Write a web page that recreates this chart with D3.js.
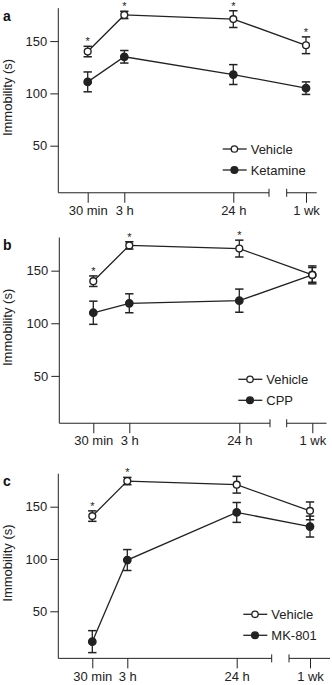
<!DOCTYPE html>
<html>
<head>
<meta charset="utf-8">
<script src="https://cdn.jsdelivr.net/npm/d3@7"></script>
<style>
  body { margin: 0; background: #fff; }
  svg { display: block; font-family: "Liberation Sans", Arial, sans-serif; }
</style>
</head>
<body>
<svg id="chart" width="332" height="685"></svg>
<script>
// time points (hours) and their labels
var timeHours = [0.5, 3, 24, 168]
var timeLabels = ["30 min", "3 h", "24 h", "1 wk"]
var yTicks = [50, 100, 150]

// vehicle group, panel a
var vehicleMean = [140, 175, 171, 146]
var vehicleErr = [5, 3.5, 8, 8]

// panel a
var ketamineMean = [111, 135, 118, 105]
var ketamineErr = [9.5, 6, 9.5, 6]
var starsA = [true, true, true, true]

// panel b
var vehicleMeanB = [140, 174, 171, 146]
var vehicleErrB = [5, 3.5, 8, 7]
var cppMean = [110, 119, 121.5, 146]
var cppErr = [11, 9, 11, 8.5]
var starsB = [true, true, true, false]

// panel c
var vehicleMeanC = [141, 174.5, 171, 146]
var vehicleErrC = [5, 3.5, 8, 8.5]
var mk801Mean = [21, 99, 144.5, 131]
var mk801Err = [10.5, 10, 9.5, 10]
var starsC = [true, true, false, false]

// layout for each panel
var panels = [
  { letter: "a", drug: "Ketamine", veh: vehicleMean, vehErr: vehicleErr, mean: ketamineMean, err: ketamineErr, stars: starsA,
    axisX: 58.3, y0: 198, y180: 9.7, xPos: [87.7, 124.3, 233.3, 306], brk: [269, 286.7], xEnd: 316.7,
    letterY: 20.5, legX: 222.7, legY: 149 },
  { letter: "b", drug: "CPP", veh: vehicleMeanB, vehErr: vehicleErrB, mean: cppMean, err: cppErr, stars: starsB,
    axisX: 59.3, y0: 428.5, y180: 239.1, xPos: [93.3, 129.3, 239.3, 312.3], brk: [270, 286.7], xEnd: 326.5,
    letterY: 250, legX: 238.3, legY: 379.3 },
  { letter: "c", drug: "MK-801", veh: vehicleMeanC, vehErr: vehicleErrC, mean: mk801Mean, err: mk801Err, stars: starsC,
    axisX: 58.3, y0: 663.6, y180: 475.3, xPos: [92.3, 127.3, 236.7, 310], brk: [271.7, 289], xEnd: 330,
    letterY: 486, legX: 243.3, legY: 614.3 }
]

var ink = "#222"
var svg = d3.select("#chart")

panels.forEach(function(p) {
  var g = svg.append("g")

  var y = d3.scaleLinear().domain([0, 180]).range([p.y0, p.y180])
  var x = d3.scaleLinear().domain(timeHours).range(p.xPos)
  var axisY = y(5)

  // panel letter
  g.append("text")
    .attr("x", 3).attr("y", p.letterY)
    .attr("font-size", 14).attr("font-weight", "bold").attr("fill", "#111")
    .text(p.letter)

  // y axis
  var yAx = g.append("g")
    .attr("transform", "translate(" + p.axisX + ",0)")
    .call(d3.axisLeft(y).tickValues(yTicks).tickSize(8).tickPadding(3))
  yAx.select(".domain").remove()
  yAx.selectAll("line").attr("stroke", ink)
  yAx.selectAll("text").attr("font-size", 13).attr("fill", ink)
    .attr("font-family", "Liberation Sans, Arial, sans-serif")
  g.append("line")
    .attr("x1", p.axisX).attr("x2", p.axisX)
    .attr("y1", axisY).attr("y2", y(181.5))
    .attr("stroke", ink)

  // y label
  g.append("text")
    .attr("transform", "translate(12," + ((axisY + y(181.5)) / 2 - 3) + ") rotate(-90)")
    .attr("text-anchor", "middle")
    .attr("font-size", 13).attr("fill", ink)
    .text("Immobility (s)")

  // x axis with a break before 1 wk
  var xAx = g.append("g")
    .attr("transform", "translate(0," + axisY + ")")
    .call(d3.axisBottom(x).tickValues(timeHours).tickFormat(function(d, i) { return timeLabels[i] })
      .tickSize(10).tickPadding(3))
  xAx.select(".domain").remove()
  xAx.selectAll("line").attr("stroke", ink)
  xAx.selectAll("text").attr("font-size", 13).attr("fill", ink)
    .attr("font-family", "Liberation Sans, Arial, sans-serif")

  g.append("line").attr("x1", p.axisX).attr("x2", p.brk[0])
    .attr("y1", axisY).attr("y2", axisY).attr("stroke", ink)
  g.append("line").attr("x1", p.brk[1]).attr("x2", p.xEnd)
    .attr("y1", axisY).attr("y2", axisY).attr("stroke", ink)
  p.brk.forEach(function(bx) {
    g.append("line").attr("x1", bx).attr("x2", bx)
      .attr("y1", axisY - 4).attr("y2", axisY + 4).attr("stroke", ink)
  })

  // draw one series
  function series(mean, err, open) {
    var pts = mean.map(function(m, i) { return { t: timeHours[i], m: m, e: err[i] } })
    var line = d3.line().x(function(d) { return x(d.t) }).y(function(d) { return y(d.m) })
    g.append("path").datum(pts)
      .attr("d", line).attr("fill", "none").attr("stroke", ink).attr("stroke-width", 1.3)

    var eb = g.append("g").selectAll("g").data(pts).enter().append("g")
    eb.append("line")
      .attr("x1", function(d) { return x(d.t) }).attr("x2", function(d) { return x(d.t) })
      .attr("y1", function(d) { return y(d.m - d.e) }).attr("y2", function(d) { return y(d.m + d.e) })
      .attr("stroke", ink).attr("stroke-width", 1.3)
    ;[-1, 1].forEach(function(s) {
      eb.append("line")
        .attr("x1", function(d) { return x(d.t) - 4.2 }).attr("x2", function(d) { return x(d.t) + 4.2 })
        .attr("y1", function(d) { return y(d.m + s * d.e) }).attr("y2", function(d) { return y(d.m + s * d.e) })
        .attr("stroke", ink).attr("stroke-width", 1.5)
    })

    g.append("g").selectAll("circle").data(pts).enter().append("circle")
      .attr("cx", function(d) { return x(d.t) }).attr("cy", function(d) { return y(d.m) })
      .attr("r", open ? 3.4 : 3.7)
      .attr("fill", open ? "#fff" : ink)
      .attr("stroke", ink).attr("stroke-width", 1.4)
  }

  series(p.mean, p.err, false)
  series(p.veh, p.vehErr, true)

  // significance stars
  g.append("g").selectAll("text").data(p.stars).enter()
    .filter(function(d) { return d })
    .append("text")
    .attr("x", function(d, i) { return x(timeHours[i]) })
    .attr("y", function(d, i) { return y(p.veh[i] + p.vehErr[i]) - 1 })
    .attr("text-anchor", "middle")
    .attr("font-size", 11).attr("fill", ink)
    .text("*")

  // legend
  var leg = [{ name: "Vehicle", open: true }, { name: p.drug, open: false }]
  leg.forEach(function(l, i) {
    var ly = p.legY + i * 21
    g.append("line").attr("x1", p.legX).attr("x2", p.legX + 24)
      .attr("y1", ly).attr("y2", ly).attr("stroke", ink).attr("stroke-width", 1.3)
    g.append("circle").attr("cx", p.legX + 11.7).attr("cy", ly).attr("r", l.open ? 3.2 : 3.4)
      .attr("fill", l.open ? "#fff" : ink).attr("stroke", ink).attr("stroke-width", 1.3)
    g.append("text").attr("x", p.legX + 28).attr("y", ly).attr("dy", "0.36em")
      .attr("font-size", 13).attr("fill", ink)
      .text(l.name)
  })
})
</script>
</body>
</html>
